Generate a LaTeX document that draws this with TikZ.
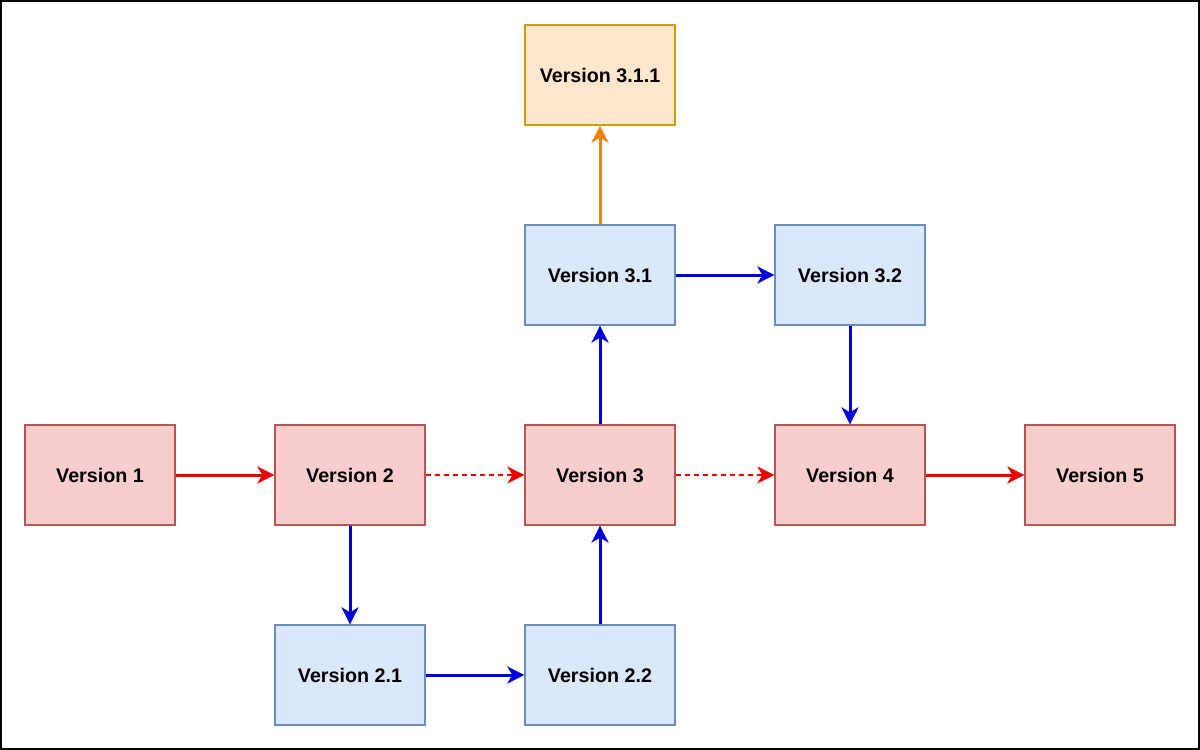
\documentclass[tikz,border=0pt]{standalone}
\usepackage{fontspec}
\setmainfont{Liberation Sans}
\usetikzlibrary{arrows.meta}
\definecolor{rfill}{HTML}{F8CECC}
\definecolor{rline}{HTML}{B85450}
\definecolor{bfill}{HTML}{DAE8FC}
\definecolor{bline}{HTML}{6C8EBF}
\definecolor{ofill}{HTML}{FFE6CC}
\definecolor{oline}{HTML}{D79B00}
\definecolor{arred}{HTML}{EE0000}
\definecolor{arblue}{HTML}{0000DD}
\definecolor{arorange}{HTML}{F08010}
\begin{document}
\begin{tikzpicture}[x=1pt,y=-1pt,
  box/.style={draw, line width=1.3pt, minimum width=150pt, minimum height=100pt, inner sep=0pt,
    font=\fontsize{19.7}{22}\selectfont\bfseries, anchor=center},
  redbox/.style={box, fill=rfill, draw=rline},
  bluebox/.style={box, fill=bfill, draw=bline},
  orangebox/.style={box, fill=ofill, draw=oline},
  tip/.style={-{Stealth[length=17pt, width=17pt, inset=5pt]}},
  arr/.style={line width=3pt, tip},
  redarr/.style={arr, draw=arred},
  bluearr/.style={arr, draw=arblue},
  orangearr/.style={arr, draw=arorange},
  dasharr/.style={line width=1.6pt, draw=arred, dash pattern=on 5pt off 4pt, tip}
]
\useasboundingbox (0,0) rectangle (1200,750);
\fill[white] (0,0) rectangle (1200,750);
\draw[line width=2pt] (1,1) rectangle (1199,749);

\node[orangebox] (v311) at (600,75) {Version 3.1.1};
\node[bluebox] (v31) at (600,275) {Version 3.1};
\node[bluebox] (v32) at (850,275) {Version 3.2};
\node[redbox] (v1) at (100,475) {Version 1};
\node[redbox] (v2) at (350,475) {Version 2};
\node[redbox] (v3) at (600,475) {Version 3};
\node[redbox] (v4) at (850,475) {Version 4};
\node[redbox] (v5) at (1100,475) {Version 5};
\node[bluebox] (v21) at (350,675) {Version 2.1};
\node[bluebox] (v22) at (600,675) {Version 2.2};

\draw[redarr] (v1) -- (v2);
\draw[redarr] (v4) -- (v5);
\draw[dasharr] (v2) -- (v3);
\draw[dasharr] (v3) -- (v4);
\draw[bluearr] (v2) -- (v21);
\draw[bluearr] (v21) -- (v22);
\draw[bluearr] (v22) -- (v3);
\draw[bluearr] (v3) -- (v31);
\draw[bluearr] (v31) -- (v32);
\draw[bluearr] (v32) -- (v4);
\draw[orangearr] (v31) -- (v311);
\end{tikzpicture}
\end{document}
